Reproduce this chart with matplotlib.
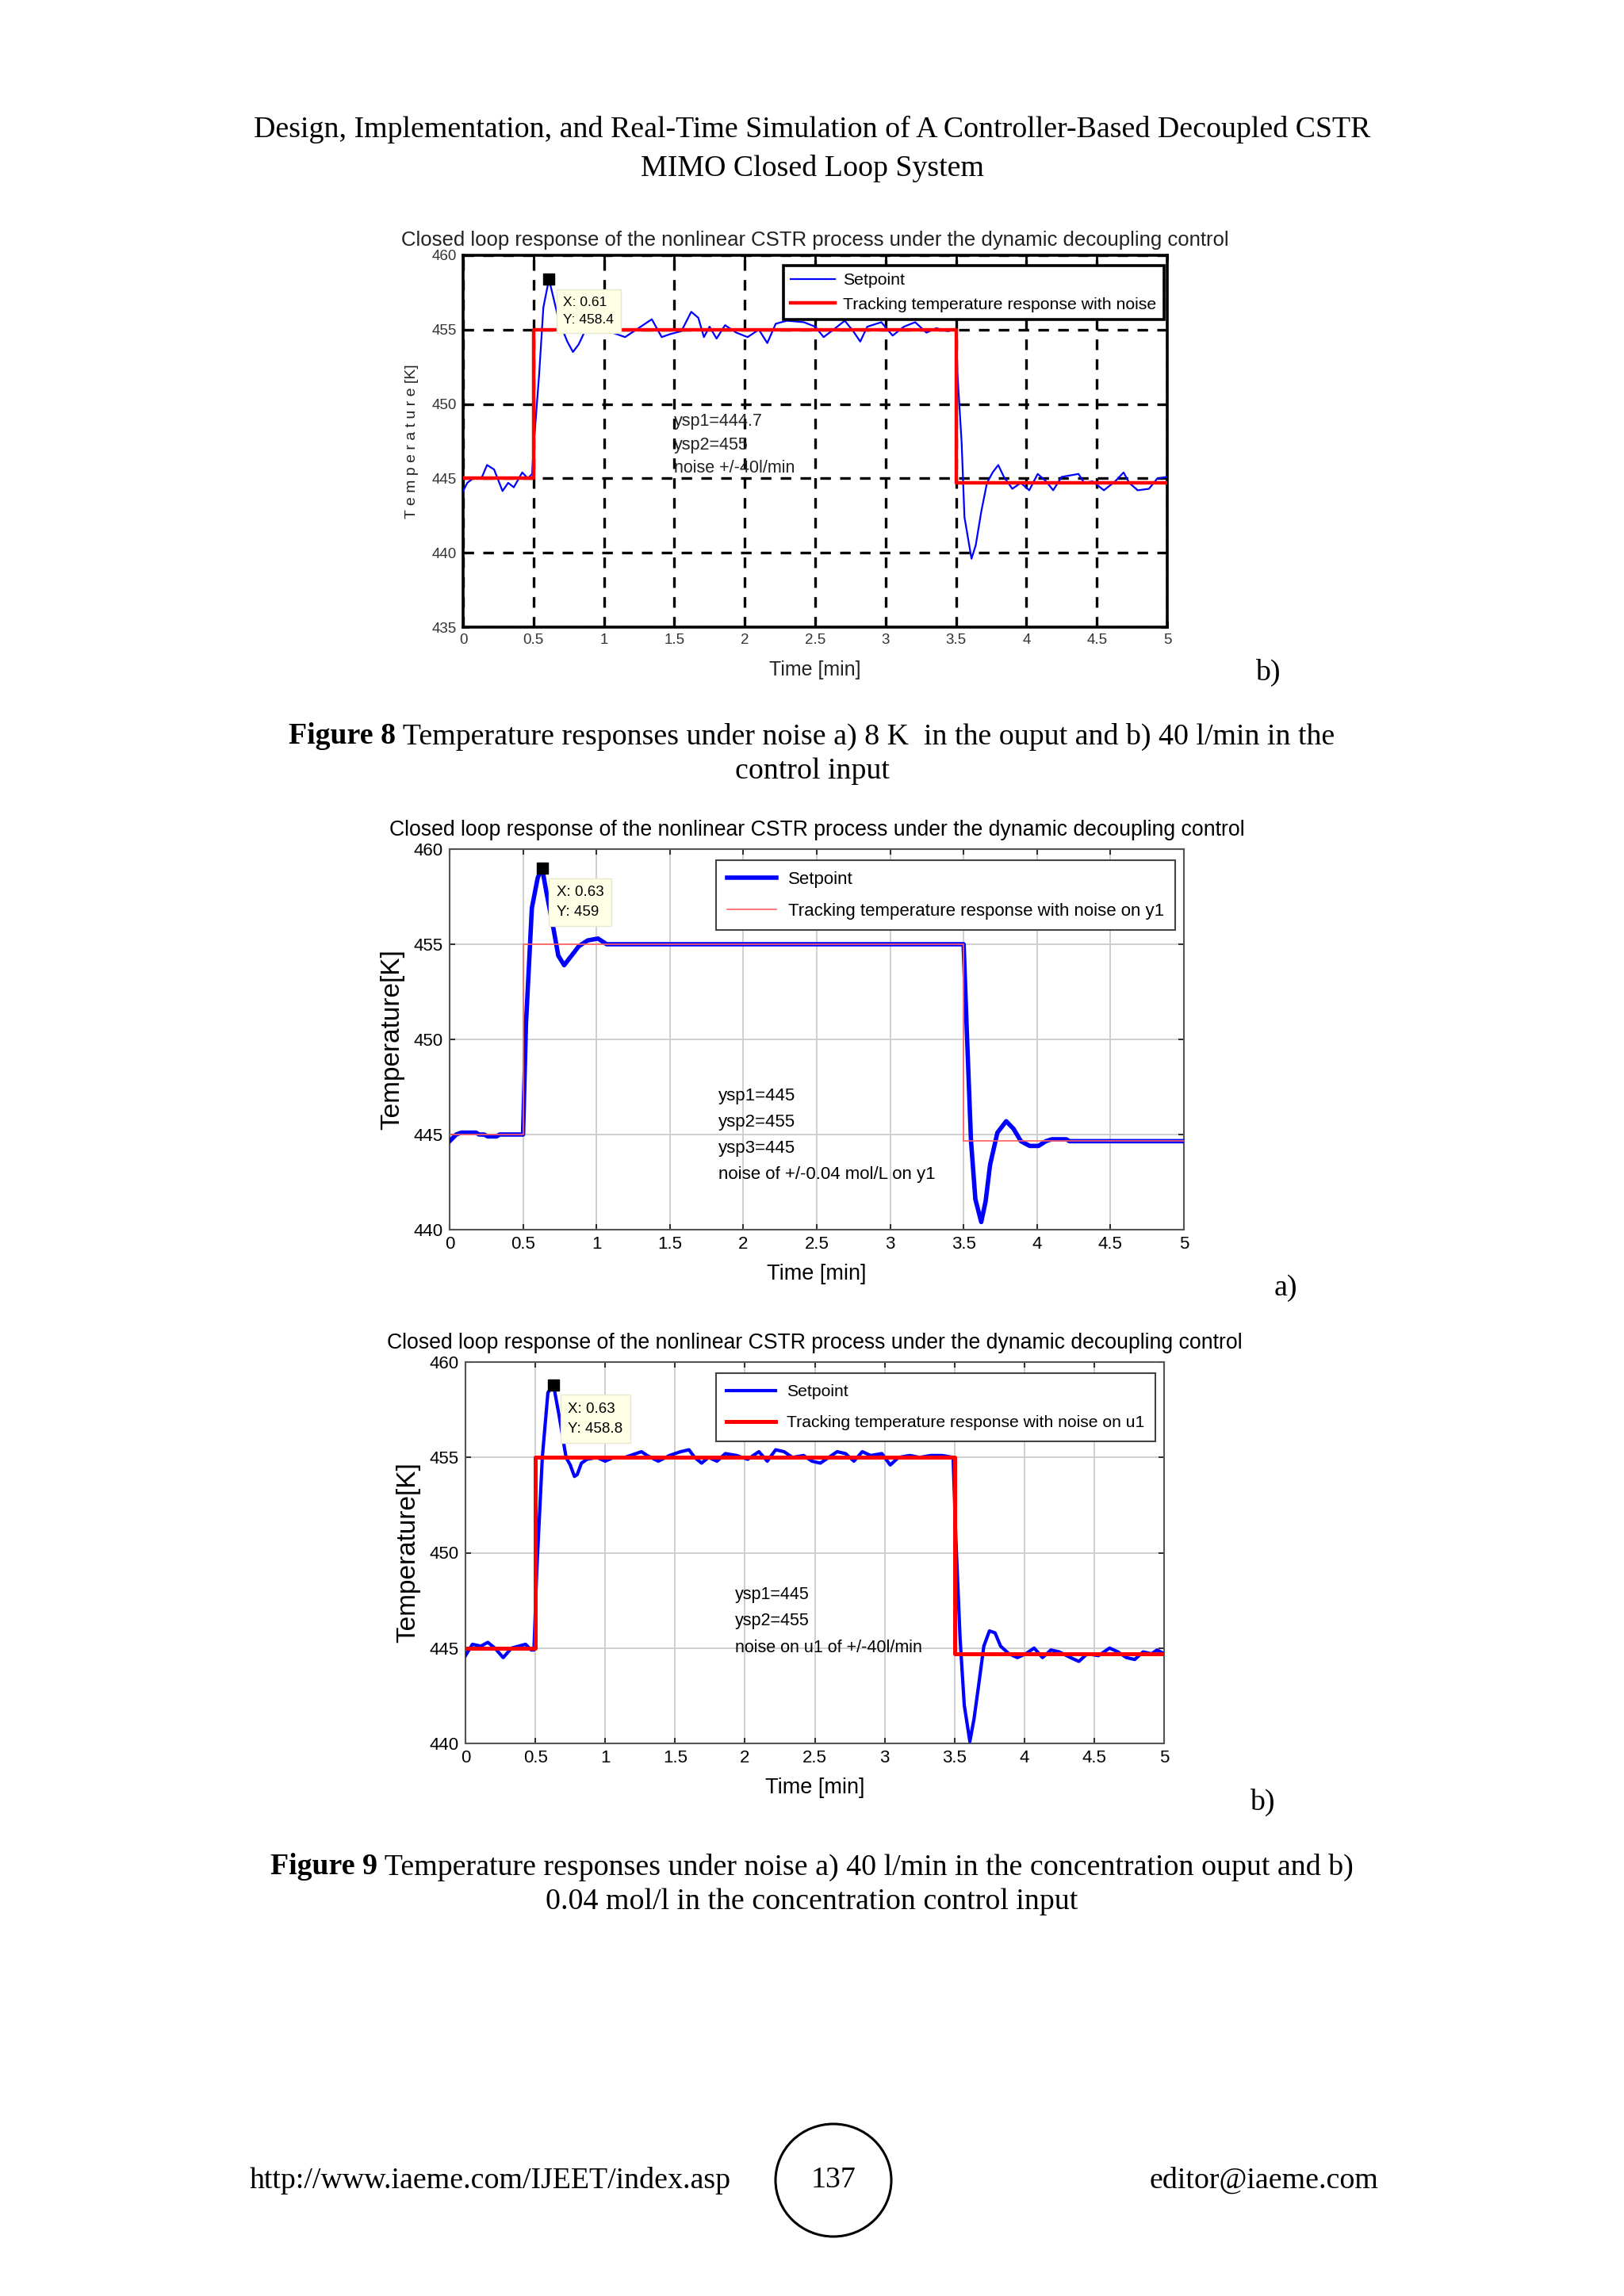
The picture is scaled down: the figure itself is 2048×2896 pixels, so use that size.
import matplotlib
matplotlib.use("Agg")
import matplotlib.pyplot as plt
from matplotlib.patches import Ellipse
from matplotlib import font_manager

# ---------------- data ----------------
# Fig 8 b) noisy response (blue) and setpoint (red)
t1 = [0, 0.03, 0.07, 0.13, 0.17, 0.22, 0.28, 0.32, 0.36, 0.42, 0.46, 0.49, 0.5, 0.54, 0.57, 0.61,
      0.68, 0.74, 0.78, 0.82, 0.86, 1.0, 1.15, 1.23, 1.34, 1.41, 1.47, 1.55, 1.62, 1.67, 1.71, 1.75,
      1.80, 1.86, 1.94, 2.02, 2.10, 2.16, 2.22, 2.30, 2.42, 2.50, 2.56, 2.63, 2.71, 2.77, 2.82, 2.87,
      2.97, 3.05, 3.13, 3.21, 3.29, 3.36, 3.44, 3.50, 3.51, 3.54, 3.56, 3.61, 3.64, 3.68, 3.72, 3.76,
      3.80, 3.84, 3.90, 3.96, 4.02, 4.08, 4.14, 4.19, 4.25, 4.31, 4.37, 4.41, 4.47, 4.55, 4.63, 4.69,
      4.73, 4.79, 4.87, 4.93, 5.0]
y1 = [444.15, 444.7, 445.0, 445.0, 445.9, 445.6, 444.15, 444.7, 444.4, 445.4, 445.0, 445.3, 447.0, 452.0, 456.5, 458.4,
      455.6, 454.2, 453.5, 454.0, 454.8, 455.0, 454.5, 455.0, 455.7, 454.5, 454.7, 454.9, 456.2, 455.8, 454.5, 455.2,
      454.4, 455.3, 454.8, 454.5, 455.0, 454.1, 455.4, 455.6, 455.5, 455.2, 454.5, 455.0, 455.6, 454.9, 454.2, 455.2,
      455.5, 454.6, 455.2, 455.5, 454.8, 455.1, 454.9, 455.0, 452.1, 447.4, 442.4, 439.6, 440.5, 442.8, 444.7, 445.4,
      445.9, 445.1, 444.3, 444.7, 444.2, 445.3, 444.8, 444.2, 445.1, 445.2, 445.3, 444.7, 444.8, 444.2, 444.8, 445.4,
      444.7, 444.2, 444.3, 445.0, 445.1]
t1_sp = [0, 0.5, 0.5, 3.5, 3.5, 5]
y1_sp = [445, 445, 455, 455, 444.7, 444.7]

# Fig 9 a) response with noise on y1
t2 = [0, 0.045, 0.08, 0.18, 0.2, 0.235, 0.26, 0.32, 0.34, 0.5, 0.52, 0.56, 0.6, 0.63, 0.66, 0.71, 0.74,
      0.78, 0.83, 0.88, 0.94, 1.01, 1.07, 3.5, 3.52, 3.55, 3.58, 3.62, 3.65, 3.68, 3.73, 3.79, 3.84,
      3.89, 3.95, 4.01, 4.06, 4.10, 4.20, 4.22, 5.0]
y2 = [444.65, 445.0, 445.1, 445.1, 445.0, 445.0, 444.9, 444.9, 445.0, 445.0, 450.8, 456.9, 458.5, 459.0, 457.7, 455.7, 454.4,
      453.9, 454.4, 454.9, 455.2, 455.3, 455.0, 455.0, 450.8, 444.7, 441.6, 440.4, 441.5, 443.4, 445.1, 445.7, 445.3,
      444.65, 444.4, 444.4, 444.65, 444.75, 444.75, 444.65, 444.65]
t2_sp = [0, 0.5, 0.5, 3.5, 3.5, 5]
y2_sp = [445, 445, 455, 455, 444.65, 444.65]

# Fig 9 b) response with noise on u1
t3 = [0, 0.05, 0.11, 0.16, 0.21, 0.27, 0.33, 0.38, 0.43, 0.47, 0.49, 0.51, 0.55, 0.59, 0.63, 0.67, 0.72,
      0.75, 0.78, 0.80, 0.83, 0.87, 0.94, 1.0, 1.06, 1.14, 1.22, 1.26, 1.30, 1.38, 1.46, 1.54, 1.60, 1.64,
      1.69, 1.74, 1.80, 1.86, 1.94, 2.02, 2.10, 2.16, 2.22, 2.28, 2.34, 2.42, 2.48, 2.54, 2.60, 2.66, 2.72,
      2.78, 2.84, 2.90, 2.98, 3.04, 3.10, 3.18, 3.25, 3.33, 3.41, 3.49, 3.51, 3.54, 3.57, 3.61, 3.64, 3.67,
      3.71, 3.75, 3.79, 3.83, 3.89, 3.95, 4.01, 4.07, 4.13, 4.19, 4.25, 4.33, 4.39, 4.45, 4.53, 4.61, 4.67,
      4.73, 4.79, 4.85, 4.91, 4.95, 5.0]
y3 = [444.6, 445.2, 445.1, 445.3, 445.0, 444.5, 445.0, 445.1, 445.2, 444.9, 444.9, 449.0, 455.0, 458.4, 458.8, 457.2, 455.0,
      454.6, 454.0, 454.1, 454.7, 454.9, 455.0, 454.8, 455.0, 455.0, 455.2, 455.3, 455.1, 454.8, 455.1, 455.3, 455.4, 455.0,
      454.7, 455.0, 454.8, 455.2, 455.1, 454.9, 455.3, 454.8, 455.4, 455.3, 455.0, 455.1, 454.8, 454.7, 455.0, 455.3, 455.2,
      454.8, 455.3, 455.1, 455.2, 454.6, 455.0, 455.1, 455.0, 455.1, 455.1, 455.0, 450.7, 445.5, 442.0, 440.1, 441.3, 442.9,
      445.1, 445.9, 445.8, 445.1, 444.7, 444.5, 444.7, 445.0, 444.5, 444.9, 444.8, 444.5, 444.3, 444.7, 444.6, 445.0, 444.8,
      444.5, 444.4, 444.8, 444.7, 444.9, 444.7]
t3_sp = [0, 0.5, 0.5, 3.5, 3.5, 5]
y3_sp = [445, 445, 455, 455, 444.7, 444.7]

x_ticks = [0, 0.5, 1, 1.5, 2, 2.5, 3, 3.5, 4, 4.5, 5]
x_ticklabels = ["0", "0.5", "1", "1.5", "2", "2.5", "3", "3.5", "4", "4.5", "5"]
y_ticks_1 = [435, 440, 445, 450, 455, 460]
y_ticks_2 = [440, 445, 450, 455, 460]

tip1 = (0.61, 458.4)
tip2 = (0.63, 459.0)
tip3 = (0.63, 458.8)

title_txt = "Closed loop response of the nonlinear CSTR process under the dynamic decoupling control"
header1 = "Design, Implementation, and Real-Time Simulation of A Controller-Based Decoupled CSTR"
header2 = "MIMO Closed Loop System"

# ---------------- fonts ----------------
avail = {f.name for f in font_manager.fontManager.ttflist}
NARROW = ["Liberation Sans Narrow", "Liberation Sans", "DejaVu Sans"] if "Liberation Sans Narrow" in avail else ["Liberation Sans", "DejaVu Sans"]
SANS = ["Liberation Sans", "DejaVu Sans"]
SERIF = ["Liberation Serif", "DejaVu Serif"]

W, H = 2048, 2896
fig = plt.figure(figsize=(W / 100, H / 100), dpi=100)
fig.patch.set_facecolor("white")


def ax_rect(l, t, r, b):
    return [l / W, 1 - b / H, (r - l) / W, (b - t) / H]


def fx(x):
    return x / W


def fy(y):
    return 1 - y / H


PS = 27.3  # page text size

# ---------------- page text ----------------
fig.text(fx(1024), fy(163), header1, ha="center", va="center", fontsize=PS, family=SERIF)
fig.text(fx(1024), fy(212), header2, ha="center", va="center", fontsize=PS, family=SERIF)
fig.text(fx(1599), fy(848), "b)", ha="center", va="center", fontsize=PS, family=SERIF)
fig.text(fx(1621), fy(1625), "a)", ha="center", va="center", fontsize=PS, family=SERIF)
fig.text(fx(1592), fy(2273), "b)", ha="center", va="center", fontsize=PS, family=SERIF)

renderer = fig.canvas.get_renderer()


def caption(y, bold, rest, size=PS):
    tb = fig.text(0, fy(y), bold, ha="left", va="center", fontsize=size, family=SERIF, weight="bold")
    tr = fig.text(0, fy(y), rest, ha="left", va="center", fontsize=size, family=SERIF)
    wb = tb.get_window_extent(renderer).width
    wr = tr.get_window_extent(renderer).width
    x0 = 1024 - (wb + wr) / 2
    tb.set_x(fx(x0))
    tr.set_x(fx(x0 + wb))


caption(929, "Figure 8", " Temperature responses under noise a) 8 K  in the ouput and b) 40 l/min in the")
fig.text(fx(1024), fy(973), "control input", ha="center", va="center", fontsize=PS, family=SERIF)
caption(2355, "Figure 9", " Temperature responses under noise a) 40 l/min in the concentration ouput and b)")
fig.text(fx(1024), fy(2399), "0.04 mol/l in the concentration control input", ha="center", va="center",
         fontsize=PS, family=SERIF)

fig.text(fx(618), fy(2750), "http://www.iaeme.com/IJEET/index.asp", ha="center", va="center", fontsize=PS, family=SERIF)
fig.text(fx(1051), fy(2750), "137", ha="center", va="center", fontsize=PS, family=SERIF)
fig.text(fx(1594), fy(2750), "editor@iaeme.com", ha="center", va="center", fontsize=PS, family=SERIF)
fig.add_artist(Ellipse((fx(1051), fy(2750)), 146 / W, 142 / H, transform=fig.transFigure,
                       fill=False, ec="black", lw=2.2))


def data_tip(ax, tip, label, size):
    ax.plot([tip[0]], [tip[1]], "s", color="black", ms=10, zorder=6, clip_on=False)
    ax.annotate(label, xy=tip, xytext=(18, -22), textcoords="offset pixels", ha="left", va="top",
                fontsize=size, family=NARROW, zorder=7, linespacing=1.6,
                bbox=dict(boxstyle="square,pad=0.5", fc="#ffffe6", ec="#e8e8d0", lw=1))


# ---------------- chart 1 (Fig 8 b) ----------------
ax1 = fig.add_axes(ax_rect(584, 322, 1472, 791))
ax1.plot(t1, y1, color="#0000ff", lw=1.6, label="Setpoint", zorder=3)
ax1.plot(t1_sp, y1_sp, color="#ff0000", lw=3.2, label="Tracking temperature response with noise", zorder=4)
ax1.set_xlim(0, 5)
ax1.set_ylim(435, 460)
ax1.set_xticks(x_ticks)
ax1.set_xticklabels(x_ticklabels)
ax1.set_yticks(y_ticks_1)
ax1.grid(True, color="black", ls=(0, (4, 3.5)), lw=2.4)
for s in ax1.spines.values():
    s.set_linewidth(2.6)
    s.set_color("black")
ax1.tick_params(direction="in", length=6, width=2, top=True, right=True, labelsize=13.5,
                labelcolor="#333333", pad=6)
for lab in ax1.get_xticklabels() + ax1.get_yticklabels():
    lab.set_family(SANS)
ax1.set_title(title_txt, fontsize=18.5, family=SANS, pad=9, color="#222222")
ax1.set_xlabel("Time [min]", fontsize=18, family=SANS, labelpad=12, color="#222222")
ax1.set_ylabel("T e m p e r a t u r e [K]", fontsize=14, family=SANS, labelpad=12, color="#222222")
leg1 = ax1.legend(loc="upper right", bbox_to_anchor=(0.9955, 0.973), prop={"family": SANS, "size": 15.3},
                  frameon=True, fancybox=False, handlelength=2.6, borderpad=0.45, labelspacing=0.55,
                  handletextpad=0.5, borderaxespad=0)
leg1.get_frame().set_edgecolor("black")
leg1.get_frame().set_linewidth(2.6)
leg1.get_frame().set_alpha(1)
ax1.text(1.5, 449.4, "ysp1=444.7\nysp2=455\nnoise +/-40l/min", fontsize=15.5, family=SANS, va="top",
         linespacing=1.55, color="#222222")
data_tip(ax1, tip1, "X: 0.61\nY: 458.4", 12.5)


def matlab_style(ax, yticks):
    ax.set_xlim(0, 5)
    ax.set_ylim(440, 460)
    ax.set_xticks(x_ticks)
    ax.set_xticklabels(x_ticklabels)
    ax.set_yticks(yticks)
    ax.grid(True, color="#cccccc", ls="-", lw=1.3)
    for s in ax.spines.values():
        s.set_linewidth(1.5)
        s.set_color("#555555")
    ax.tick_params(direction="in", length=5, width=1.5, color="#333333", top=True, right=True,
                   labelsize=16, pad=6)
    for lab in ax.get_xticklabels() + ax.get_yticklabels():
        lab.set_family(NARROW)


# ---------------- chart 2 (Fig 9 a) ----------------
ax2 = fig.add_axes(ax_rect(567, 1071, 1493, 1551))
ax2.plot(t2, y2, color="#0000ff", lw=4, label="Setpoint", zorder=3)
ax2.plot(t2_sp, y2_sp, color="#ff6060", lw=1.2, label="Tracking temperature response with noise on y1", zorder=4)
matlab_style(ax2, y_ticks_2)
ax2.set_title(title_txt, fontsize=19.2, family=NARROW, pad=12)
ax2.set_xlabel("Time [min]", fontsize=19.5, family=NARROW, labelpad=10)
ax2.set_ylabel("Temperature[K]", fontsize=24, family=SANS, labelpad=8)
leg2 = ax2.legend(loc="upper right", bbox_to_anchor=(0.988, 0.97), prop={"family": NARROW, "size": 16},
                  frameon=True, fancybox=False, handlelength=2.8, borderpad=0.6, labelspacing=0.85,
                  handletextpad=0.7, borderaxespad=0)
leg2.get_frame().set_edgecolor("#444444")
leg2.get_frame().set_linewidth(1.5)
leg2.get_frame().set_alpha(1)
ax2.text(1.83, 447.45, "ysp1=445\nysp2=455\nysp3=445\nnoise of +/-0.04 mol/L on y1", fontsize=16,
         family=NARROW, va="top", linespacing=1.75)
data_tip(ax2, tip2, "X: 0.63\nY: 459", 13.5)

# ---------------- chart 3 (Fig 9 b) ----------------
ax3 = fig.add_axes(ax_rect(587, 1718, 1468, 2199))
ax3.plot(t3, y3, color="#0000ff", lw=3, label="Setpoint", zorder=3)
ax3.plot(t3_sp, y3_sp, color="#ff0000", lw=3.6, label="Tracking temperature response with noise on u1", zorder=4)
matlab_style(ax3, y_ticks_2)
ax3.set_title(title_txt, fontsize=19.2, family=NARROW, pad=12)
ax3.set_xlabel("Time [min]", fontsize=19.5, family=NARROW, labelpad=10)
ax3.set_ylabel("Temperature[K]", fontsize=24, family=SANS, labelpad=8)
leg3 = ax3.legend(loc="upper right", bbox_to_anchor=(0.988, 0.97), prop={"family": NARROW, "size": 15.2},
                  frameon=True, fancybox=False, handlelength=2.9, borderpad=0.65, labelspacing=0.95,
                  handletextpad=0.7, borderaxespad=0)
leg3.get_frame().set_edgecolor("#444444")
leg3.get_frame().set_linewidth(1.5)
leg3.get_frame().set_alpha(1)
ax3.text(1.93, 448.25, "ysp1=445\nysp2=455\nnoise on u1 of +/-40l/min", fontsize=15.5,
         family=NARROW, va="top", linespacing=1.8)
data_tip(ax3, tip3, "X: 0.63\nY: 458.8", 13.5)

fig.savefig("out.png", dpi=100, facecolor="white")
